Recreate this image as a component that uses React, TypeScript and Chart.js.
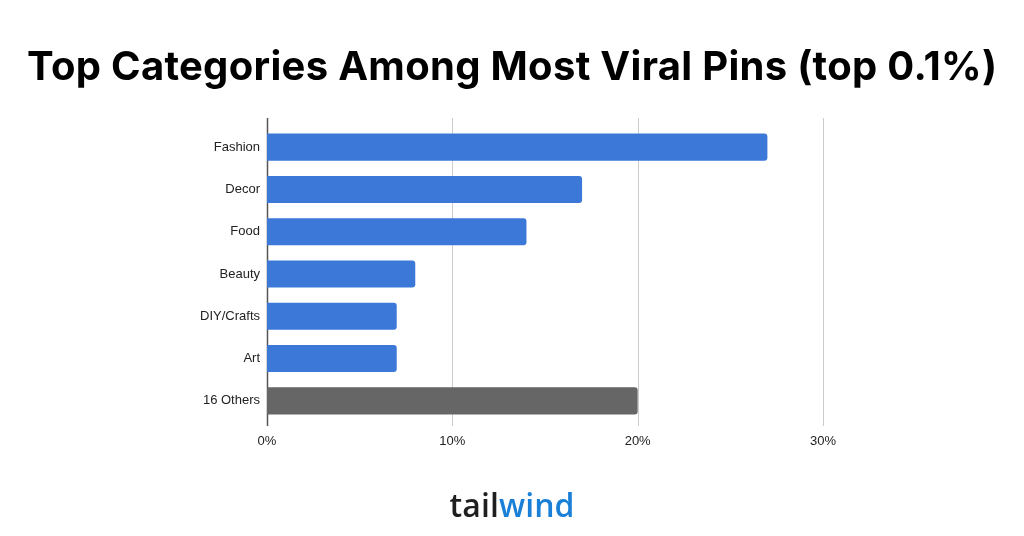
import React, { useEffect, useRef } from "react";
import { Chart, registerables } from "chart.js";

Chart.register(...registerables);

const categories = ["Fashion", "Decor", "Food", "Beauty", "DIY/Crafts", "Art", "16 Others"];
const shares = [27, 17, 14, 8, 7, 7, 20];
const barColors = ["#3c78d8", "#3c78d8", "#3c78d8", "#3c78d8", "#3c78d8", "#3c78d8", "#666666"];
const xTicks = [0, 10, 20, 30];
const titleText = "Top Categories Among Most Viral Pins (top 0.1%)";
const logoDark = "tail";
const logoBlue = "wind";

const gridPlugin = {
  id: "extendedGrid",
  beforeDatasetsDraw(chart: any) {
    const { ctx, chartArea, scales } = chart;
    const x = scales.x;
    ctx.save();
    xTicks.forEach((v) => {
      const px = Math.round(x.getPixelForValue(v)) + 0.5;
      ctx.beginPath();
      ctx.strokeStyle = v === 0 ? "#555555" : "#cccccc";
      ctx.lineWidth = v === 0 ? 1.5 : 1;
      ctx.moveTo(px, chartArea.top - 8);
      ctx.lineTo(px, chartArea.bottom + 4);
      ctx.stroke();
    });
    ctx.restore();
  },
};

function drawSpaced(ctx: any, text: string, left: number, y: number, targetWidth: number) {
  ctx.letterSpacing = "0px";
  const base = ctx.measureText(text).width;
  const n = text.length;
  const sp = n > 1 ? (targetWidth - base) / (n - 1) : 0;
  ctx.letterSpacing = sp + "px";
  ctx.textAlign = "left";
  ctx.fillText(text, left, y);
  ctx.letterSpacing = "0px";
  return sp;
}

const textPlugin = {
  id: "headerFooter",
  afterDraw(chart: any) {
    const { ctx, width } = chart;
    ctx.save();
    ctx.fillStyle = "#000000";
    ctx.font = "bold 40px Inter";
    ctx.textBaseline = "alphabetic";
    const tw = 970;
    drawSpaced(ctx, titleText, width / 2 - tw / 2, 80, tw);

    ctx.font = "600 32px 'Open Sans'";
    ctx.textAlign = "left";
    ctx.letterSpacing = "0px";
    const w1 = ctx.measureText(logoDark).width;
    const w2 = ctx.measureText(logoBlue).width;
    const total = 125;
    const sp = (total - w1 - w2) / 7;
    ctx.letterSpacing = sp + "px";
    const start = width / 2 - total / 2;
    ctx.fillStyle = "#1f1f1f";
    ctx.fillText(logoDark, start, 517);
    ctx.fillStyle = "#1a7fd6";
    ctx.fillText(logoBlue, start + w1 + sp * 4, 517);
    ctx.restore();
  },
};

export default function App() {
  const ref = useRef<HTMLCanvasElement>(null);
  useEffect(() => {
    if (!ref.current) return;
    const chart = new Chart(ref.current, {
      type: "bar",
      data: {
        labels: categories,
        datasets: [
          {
            data: shares,
            backgroundColor: barColors,
            borderRadius: 3,
            borderSkipped: "start",
            categoryPercentage: 1,
            barPercentage: 0.64,
          },
        ],
      },
      options: {
        indexAxis: "y",
        responsive: false,
        animation: false,
        devicePixelRatio: 1,
        layout: { padding: { top: 126, left: 0, right: 201, bottom: 84 } },
        plugins: {
          legend: { display: false },
          title: { display: false },
          tooltip: { enabled: false },
        },
        scales: {
          x: {
            min: 0,
            max: 30,
            ticks: {
              stepSize: 10,
              callback: (v: any) => v + "%",
              color: "#222222",
              font: { family: "'Liberation Sans', Arial", size: 13 },
              padding: 12,
            },
            grid: { display: false, drawTicks: false },
            border: { display: false },
            afterFit: (s: any) => {
              s.height = 30;
            },
          },
          y: {
            ticks: {
              color: "#222222",
              font: { family: "'Liberation Sans', Arial", size: 13 },
              padding: 7,
            },
            grid: { display: false, drawTicks: false },
            border: { display: false },
            afterFit: (s: any) => {
              s.width = 267;
            },
          },
        },
      },
      plugins: [gridPlugin, textPlugin],
    });
    return () => chart.destroy();
  }, []);
  return (
    <canvas
      ref={ref}
      width={1024}
      height={536}
      style={{ position: "absolute", top: 0, left: 0, width: 1024, height: 536, display: "block" }}
    />
  );
}
